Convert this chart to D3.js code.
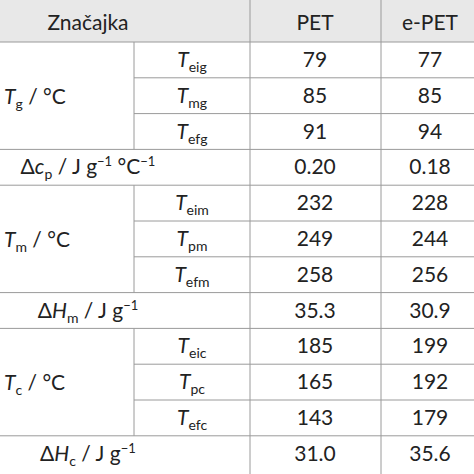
<!DOCTYPE html>
<html><head><meta charset="utf-8">
<script src="https://cdn.jsdelivr.net/npm/d3@7"></script>
<style>body{margin:0;background:#fff}svg text{font-family:Lato,"Open Sans",sans-serif;fill:#222}</style>
</head><body><svg id="t" width="474" height="474"></svg>
<script>
const groups = [
  {label: ["T", "g", " / °C"], subs: ["eig", "mg", "efg"]},
  {label: ["Δc", "p", " / J g", "−1", " °C", "−1"], subs: null},
  {label: ["T", "m", " / °C"], subs: ["eim", "pm", "efm"]},
  {label: ["ΔH", "m", " / J g", "−1"], subs: null},
  {label: ["T", "c", " / °C"], subs: ["eic", "pc", "efc"]},
  {label: ["ΔH", "c", " / J g", "−1"], subs: null}
]
const pet  = ["79", "85", "91", "0.20", "232", "249", "258", "35.3", "185", "165", "143", "31.0"]
const epet = ["77", "85", "94", "0.18", "228", "244", "256", "30.9", "199", "192", "179", "35.6"]
const headers = ["Značajka", "PET", "e-PET"]

const svg = d3.select("#t")
const W = 474, headH = 42
const rowH = 35.8
const x1 = 134, x2 = 250, x3 = 381
const y = d3.scaleLinear().domain([0, 1]).range([headH, headH + rowH])
const line = "#9a9a9a"

svg.append("rect").attr("width", W).attr("height", headH).attr("fill", "#e8e8e8")
const hx = [88, 315, 430]
headers.forEach((h, i) => svg.append("text").attr("x", hx[i]).attr("y", 30)
  .attr("text-anchor", "middle").attr("font-size", 21).text(h))

function label(sel, parts) {
  parts.forEach((p, i) => {
    const sub = i % 2 == 1
    const sup = sub && p.startsWith("−")
    let t
    if (i == 0) {
      if (p.startsWith("Δ")) sel.append("tspan").text("Δ")
      t = sel.append("tspan").attr("font-style", "italic").text(p.replace("Δ", ""))
    } else {
      t = sel.append("tspan").text(p)
    }
    if (sub) {
      t.attr("font-size", sup ? 13 : 14).attr("dy", sup ? -8 : 5)
    } else if (i > 0) {
      t.attr("dy", parts[i - 1].startsWith("−") ? 8 : -5)
    }
  })
}

let r = 0
groups.forEach(g => {
  const n = g.subs ? g.subs.length : 1
  const top = y(r), bot = y(r + n)
  if (g.subs) {
    const t = svg.append("text").attr("x", 4).attr("y", (top + bot) / 2 + 8).attr("font-size", 21)
    label(t, g.label)
    g.subs.forEach((s, k) => {
      const tt = svg.append("text").attr("x", 192).attr("y", y(r + k) + 25)
        .attr("text-anchor", "middle").attr("font-size", 21)
      tt.append("tspan").attr("font-style", "italic").text("T")
      tt.append("tspan").attr("font-size", 14).attr("dy", 5).text(s)
      if (k > 0) svg.append("line").attr("x1", x1).attr("x2", W)
        .attr("y1", y(r + k)).attr("y2", y(r + k)).attr("stroke", line)
    })
    svg.append("line").attr("x1", x1).attr("x2", x1).attr("y1", top).attr("y2", bot).attr("stroke", line)
  } else {
    const t = svg.append("text").attr("x", 88).attr("y", top + 25).attr("text-anchor", "middle").attr("font-size", 21)
    label(t, g.label)
  }
  for (let k = 0; k < n; k++) {
    svg.append("text").attr("x", 315).attr("y", y(r + k) + 25).attr("text-anchor", "middle").attr("font-size", 21).text(pet[r + k])
    svg.append("text").attr("x", 430).attr("y", y(r + k) + 25).attr("text-anchor", "middle").attr("font-size", 21).text(epet[r + k])
  }
  svg.append("line").attr("x1", 0).attr("x2", W).attr("y1", top).attr("y2", top).attr("stroke", line)
  r += n
})
;[x2, x3].forEach(x => svg.append("line").attr("x1", x).attr("x2", x).attr("y1", 0).attr("y2", 474).attr("stroke", line))
</script></body></html>
